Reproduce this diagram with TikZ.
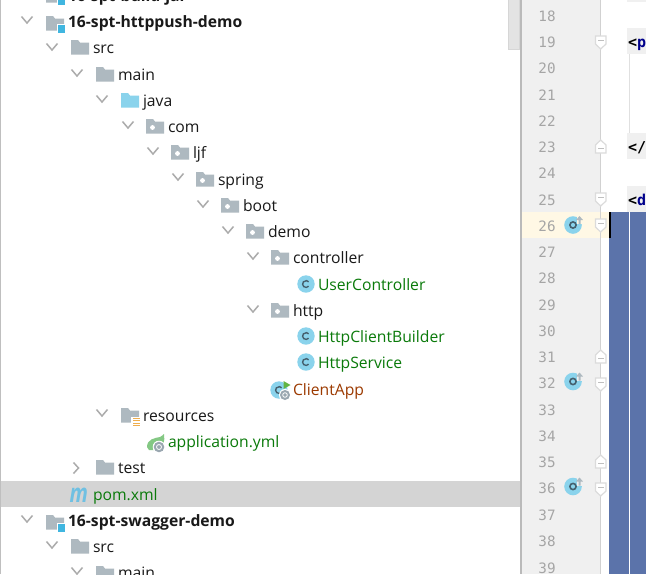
\documentclass[tikz,border=0pt]{standalone}
\usepackage{fontspec}
\setmainfont{Open Sans}
\newfontfamily\gutterfont{DejaVu Sans Mono}
\newfontfamily\codefont{DejaVu Sans Mono}
\definecolor{fold}{HTML}{AEB9C0}
\definecolor{sky}{HTML}{8AD3EC}
\definecolor{modblue}{HTML}{40B6E0}
\definecolor{chev}{HTML}{ABABAB}
\definecolor{darkicon}{HTML}{45606E}
\definecolor{vcsgreen}{HTML}{0A7A0A}
\definecolor{vcsbrown}{HTML}{9C3A00}
\definecolor{gutterbg}{HTML}{F0F0F0}
\definecolor{guttertext}{HTML}{A5A5A5}
\definecolor{selblue}{HTML}{5B73AA}
\definecolor{rowsel}{HTML}{D4D4D4}
\definecolor{caretrow}{HTML}{FFF8E5}
\definecolor{leaf}{HTML}{84C884}
\definecolor{runarrow}{HTML}{62B543}
\definecolor{gearcol}{HTML}{9AA7B0}
\definecolor{stripe}{HTML}{EFAE4E}
\definecolor{mavenblue}{HTML}{6FC0E2}
\tikzset{
  x=1pt,y=-1pt,
  lbl/.style={anchor=base west,inner sep=0pt,outer sep=0pt,font=\fontsize{15.7}{18}\selectfont,text=black!90},
  boldlbl/.style={lbl,font=\fontsize{15.7}{18}\selectfont\bfseries},
  greenlbl/.style={lbl,text=vcsgreen},
  brownlbl/.style={lbl,text=vcsbrown},
  num/.style={anchor=base,inner sep=0pt,font=\gutterfont\fontsize{14.3}{16}\selectfont,text=guttertext},
  codetxt/.style={anchor=base west,inner sep=0pt,font=\codefont\fontsize{15}{16}\selectfont\bfseries},
  chevline/.style={draw=chev,line width=1.5pt,line cap=butt,line join=miter},
  foldmark/.style={draw=black!14,fill=white,line width=1.2pt},
}
% folder: left x, row centre y
\newcommand{\folderat}[3][fold]{\fill[#1] (#2,#3-7) -- (#2+7,#3-7) -- (#2+9,#3-4.5) -- (#2+18,#3-4.5) -- (#2+18,#3+7.5) -- (#2,#3+7.5) -- cycle;}
\newcommand{\pkgat}[2]{\folderat{#1}{#2}\fill[white] (#1+6.5,#2+1.5) circle (2.4);}
\newcommand{\chevd}[2]{\draw[chevline] (#1-5.5,#2-3.5) -- (#1,#2+3) -- (#1+5.5,#2-3.5);}
\newcommand{\chevr}[2]{\draw[chevline] (#1-2.5,#2-5.5) -- (#1+2.5,#2) -- (#1-2.5,#2+5.5);}
\newcommand{\modat}[2]{\folderat{#1}{#2}\fill[modblue] (#1+11,#2+1.5) rectangle (#1+19,#2+9.5);\draw[white,line width=.8pt] (#1+11,#2+9.5) -- (#1+11,#2+1.5) -- (#1+19,#2+1.5);}
\newcommand{\classat}[2]{\fill[sky] (#1,#2) circle (8.7);\draw[darkicon,line width=1.4pt] (#1+2.6,#2+2.2) arc (40:320:3.4);}
\newcommand{\gutteroverride}[3][gutterbg]{\fill[sky] (#2,#3) circle (8.8);\draw[darkicon,line width=1.6pt] (#2,#3) circle (3.1);
  \fill[#1] (#2+3.5,#3-10) rectangle (#2+10,#3-1);\fill[fold] (#2+6.5,#3-9) -- (#2+10,#3-5) -- (#2+7.5,#3-5) -- (#2+7.5,#3-1) -- (#2+5.5,#3-1) -- (#2+5.5,#3-5) -- (#2+3,#3-5) -- cycle;}
\newcommand{\foldd}[1]{\draw[foldmark] (595.5,#1-7) -- (606,#1-7) -- (606,#1+1) -- (600.7,#1+6) -- (595.5,#1+1) -- cycle;\draw[black!25,line width=.8pt] (598,#1-2.5) -- (603.5,#1-2.5);}
\newcommand{\foldu}[1]{\draw[foldmark] (595.5,#1+7) -- (606,#1+7) -- (606,#1-1) -- (600.7,#1-6) -- (595.5,#1-1) -- cycle;\draw[black!25,line width=.8pt] (598,#1+2.5) -- (603.5,#1+2.5);}
\begin{document}
\begin{tikzpicture}
\useasboundingbox (0,0) rectangle (646,574);
\fill[white] (0,0) rectangle (646,574);
% panel edge, selected row
\fill[rowsel] (1,481) rectangle (520,507);
\fill[black!25] (0,0) rectangle (1,574);
% scrollbar
\fill[black!11] (508,0) rectangle (519,49);
\draw[white,line width=1pt] (508.5,0) -- (508.5,49.5) -- (519,49.5);
\draw[black!16,line width=1pt] (508,0) -- (508,49.5) -- (519.5,49.5) -- (519.5,0);
% gutter
\fill[gutterbg] (521,0) rectangle (600,574);
\fill[caretrow] (521,212) rectangle (609,238);
\fill[black!27] (520,0) rectangle (521.5,574);
\fill[black!18] (600,0) rectangle (601,574);
% code area
\fill[gutterbg] (627,0) rectangle (646,2);
\fill[gutterbg] (627,28) rectangle (646,54);
\fill[gutterbg] (627,133) rectangle (646,159);
\fill[gutterbg] (627,186) rectangle (646,212);
\draw[black!12,line width=1pt] (629.5,54) -- (629.5,133);
\fill[selblue] (609,212) rectangle (646,574);
\fill[white] (629,212) rectangle (630,574);
\fill[black] (609,212) rectangle (611,238);
\node[codetxt,text=black] (cp) at (628,47) {<\textcolor{blue!55!black}{p}};
\node[codetxt,text=black] (cc) at (628,152) {</};
\node[codetxt,text=black] (cd) at (628,205) {<\textcolor{blue!55!black}{d}};
% gutter numbers
\foreach \n/\y in {18/21,19/47,20/73,21/100,22/126,23/152,24/178,25/205,26/231,27/257,28/283,29/310,30/336,31/362,32/388,33/415,34/441,35/467,36/493,37/520,38/546,39/573}{
  \node[num] (n\n) at (547,\y) {\n};
}
\foldd{43}\foldu{146}\foldd{200}\foldd{226}\foldu{356}\foldd{385}\foldu{461}\foldd{490}
\gutteroverride[caretrow]{573}{225}
\gutteroverride{573}{381.5}
\gutteroverride{573}{486.5}
% top clipped module
\begin{scope}
\clip (0,0) rectangle (520,574);
\chevd{27}{-5}
\modat{46}{-5}
\node[boldlbl] (top) at (68,1) {16-spt-build-jar};
\end{scope}
% tree
\chevd{27}{20}\modat{46}{23}
\node[boldlbl] (m1) at (68,27) {16-spt-httppush-demo};
\chevd{52}{47}\folderat{71}{47}
\node[lbl] (src) at (93,53) {src};
\chevd{77}{73}\folderat{96}{74}
\node[lbl] (main) at (118,80) {main};
\chevd{102}{99}\folderat[sky]{121}{100}
\node[lbl] (java) at (143,106) {java};
\chevd{128}{125}\pkgat{146}{126}
\node[lbl] (com) at (168,132) {com};
\chevd{153}{151}\pkgat{171}{152}
\node[lbl] (ljf) at (193,158) {ljf};
\chevd{178}{177}\pkgat{196}{179}
\node[lbl] (spring) at (218,185) {spring};
\chevd{203}{204}\pkgat{221}{205}
\node[lbl] (boot) at (243,211) {boot};
\chevd{228}{230}\pkgat{246}{231}
\node[lbl] (demo) at (268,237) {demo};
\chevd{253}{256}\pkgat{271}{257}
\node[lbl] (controller) at (293,263) {controller};
\classat{306}{284}
\node[greenlbl] (uc) at (318,290) {UserController};
\chevd{253}{309}\pkgat{271}{310}
\node[lbl] (http) at (293,316) {http};
\classat{306}{336}
\node[greenlbl] (hcb) at (318,342) {HttpClientBuilder};
\classat{306}{362}
\node[greenlbl] (hs) at (318,368) {HttpService};
% ClientApp
\classat{279}{390}
\fill[runarrow] (283.5,381) -- (290.5,385) -- (283.5,389) -- cycle;
\fill[white] (285,395) circle (6);
\fill[gearcol] (285,395) circle (5);
\draw[white,line width=.8pt] (285,395) circle (2.3);
\node[brownlbl] (capp) at (293,395) {ClientApp};
% resources
\chevd{102}{413}\folderat{121}{415}
\fill[white] (131,417) rectangle (140,426.5);
\foreach \yy in {418.5,421,423.5,426}{\fill[stripe] (132.5,\yy-.8) rectangle (140,\yy+.3);}
\node[lbl] (res) at (143,421) {resources};
% application.yml
\fill[leaf] (147,447) .. controls (147,439) and (155,438) .. (160,437) .. controls (162,436) and (163,435) .. (164,434) .. controls (165,441) and (164,447) .. (157,450) -- (149,450) -- cycle;
\fill[white] (159,447) circle (6.3);
\fill[gearcol] (159,447) circle (5.3);
\draw[white,line width=.8pt] (159,447) circle (2.5);
\node[greenlbl] (yml) at (168,447) {application.yml};
\chevr{76}{468}\folderat{96}{467}
\node[lbl] (test) at (118,473) {test};
\node[anchor=base west,inner sep=0pt,text=mavenblue,font=\fontsize{26}{26}\selectfont\bfseries\itshape] (micon) at (69.5,502) {\scalebox{.78}[1]{m}};
\node[greenlbl] (pom) at (93,500) {pom.xml};
% second module
\chevd{27}{519}\modat{46}{522}
\node[boldlbl] (m2) at (68,526) {16-spt-swagger-demo};
\chevd{52}{545}\folderat{71}{546}
\node[lbl] (src2) at (93,552) {src};
\chevd{77}{571}\folderat{96}{573}
\node[lbl] (main2) at (118,578) {main};
\end{tikzpicture}
\end{document}
